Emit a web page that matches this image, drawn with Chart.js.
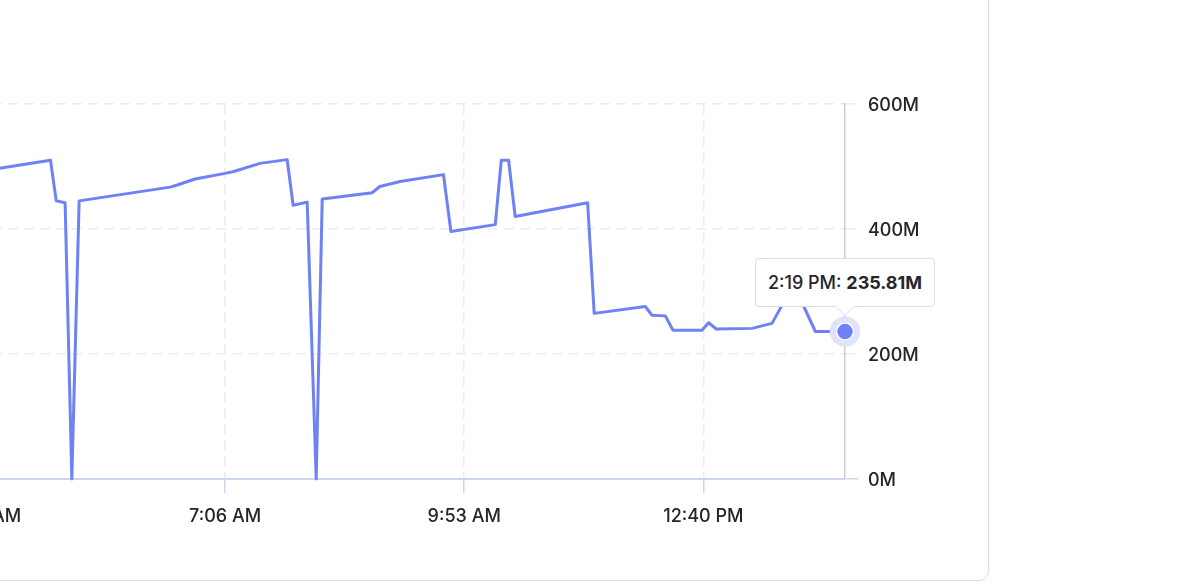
<!DOCTYPE html>
<html>
<head>
<meta charset="utf-8">
<script src="https://cdn.jsdelivr.net/npm/chart.js@4"></script>
<style>
  html, body { margin: 0; padding: 0; background: #fff; overflow: hidden; }
  body { width: 1198px; height: 588px; position: relative; font-family: Inter, sans-serif; }
  #card {
    position: absolute; left: -20px; top: -20px; width: 1009px; height: 601px;
    box-sizing: border-box; border: 1px solid #d5dcea; border-radius: 10px; background: #fff;
  }
  #wrap { position: absolute; left: -250px; top: 0; width: 1230px; height: 539px; }
  #tip {
    position: absolute; transform: translateX(-50%); white-space: nowrap;
    background: #fff; border: 1px solid #d7def0; border-radius: 4px;
    padding: 0 12px; height: 47px; line-height: 47px; font-size: 18px; color: #26262b;
    font-weight: 500; display: none;
  }
  #tip b { font-weight: 700; }
  #tip:before, #tip:after {
    content: ''; position: absolute; left: 50%; transform: translateX(-50%);
    border-left: 10px solid transparent; border-right: 10px solid transparent;
  }
  #tip:before { top: 100%; border-top: 10px solid #d7def0; }
  #tip:after { top: calc(100% - 1px); border-top: 10px solid #fff; }
</style>
</head>
<body>
<div id="card"></div>
<div id="wrap">
  <canvas id="chart" width="1230" height="539"></canvas>
  <div id="tip"></div>
</div>
<script>
// minutes since midnight
const times = [265, 304, 308, 314.2, 318.9, 324, 387.6, 392, 405, 426, 432, 450.3, 469.3, 473.5, 483.3,
  489.6, 493.8, 528.7, 534, 548.3, 578.5, 583.7, 614.7, 618.9, 624, 628.6, 679.2, 683.8, 719.5,
  724.2, 733.5, 738.8, 759.1, 763.7, 769.1, 794, 808, 820.8, 825, 838.3, 859];
// memory, millions
const values = [496, 510, 445, 442, 0, 445, 467, 470, 480, 489, 492, 505, 511, 438, 443,
  0, 448, 458, 468, 476, 487, 396, 407, 510, 510, 420, 442, 265, 276,
  262, 261, 238, 238, 250, 240, 241, 249, 302, 302, 236, 235.81];

const tickTimes = [259, 426, 593, 760];
const tickLabels = ['4:19 AM', '7:06 AM', '9:53 AM', '12:40 PM'];

const xMin = 129;
const xMax = 859;
const lineColor = '#6e82f6';
const font = { family: 'Inter', size: 18, weight: 500 };

function fmtTime(m) {
  let h = Math.floor(m / 60), mm = Math.round(m % 60);
  const ap = h >= 12 ? 'PM' : 'AM';
  h = h % 12 || 12;
  return h + ':' + String(mm).padStart(2, '0') + ' ' + ap;
}

function fmtVal(v) {
  return Number.isInteger(v) ? v + 'M' : v.toFixed(2) + 'M';
}

function externalTip(context) {
  const tip = document.getElementById('tip');
  const t = context.tooltip;
  if (t.opacity === 0) { tip.style.display = 'none'; return; }
  const p = t.dataPoints[0];
  tip.innerHTML = fmtTime(p.parsed.x) + ': <b>' + fmtVal(p.parsed.y) + '</b>';
  tip.style.display = 'block';
  tip.style.left = t.caretX + 'px';
  tip.style.top = (t.caretY - 25 - 49) + 'px';
}

// light ring around the hovered point
const halo = {
  id: 'halo',
  afterDatasetsDraw(chart) {
    const act = chart.getActiveElements();
    if (!act.length) return;
    const { x, y } = act[0].element;
    const ctx = chart.ctx;
    ctx.save();
    ctx.beginPath();
    ctx.arc(x, y, 12.2, 0, Math.PI * 2);
    ctx.lineWidth = 6;
    ctx.strokeStyle = '#dfe3fb';
    ctx.stroke();
    ctx.restore();
  }
};

const chart = new Chart(document.getElementById('chart'), {
  type: 'line',
  data: {
    datasets: [{
      data: times.map((t, i) => ({ x: t, y: values[i] })),
      borderColor: lineColor,
      borderWidth: 3,
      borderJoinStyle: 'round',
      tension: 0,
      fill: false,
      clip: false,
      pointRadius: 0,
      pointHoverRadius: 8.5,
      pointHoverBackgroundColor: lineColor,
      pointHoverBorderColor: '#ffffff',
      pointHoverBorderWidth: 1.5
    }]
  },
  options: {
    responsive: false,
    animation: false,
    layout: { padding: { left: 50, top: 104, right: 0, bottom: 0 } },
    plugins: {
      legend: { display: false },
      tooltip: { enabled: false, external: externalTip }
    },
    scales: {
      x: {
        type: 'linear',
        min: xMin,
        max: xMax,
        afterBuildTicks: s => { s.ticks = tickTimes.map(v => ({ value: v })); },
        afterFit: s => { s.height = 60; },
        ticks: {
          autoSkip: false,
          maxRotation: 0,
          padding: 13,
          color: '#24242a',
          font: font,
          callback: (v, i) => tickLabels[i]
        },
        grid: {
          color: '#ececf0',
          lineWidth: 1.5,
          tickLength: 14,
          tickColor: '#cdd6f0',
          tickWidth: 1.5,
          tickBorderDash: []
        },
        border: { display: true, color: '#cdd6f0', width: 2, dash: [10, 6] }
      },
      y: {
        position: 'right',
        min: 0,
        max: 600,
        afterFit: s => { s.width = 135; },
        ticks: {
          stepSize: 200,
          padding: 10,
          labelOffset: 2,
          color: '#24242a',
          font: font,
          callback: v => v + 'M'
        },
        grid: {
          color: c => c.tick && c.tick.value === 0 ? '#cdd6f0' : '#ececf0',
          lineWidth: 1.5,
          tickLength: 13,
          tickColor: c => c.tick && c.tick.value === 0 ? '#cdd6f0' : '#ececf0',
          tickBorderDash: c => c.tick && c.tick.value === 0 ? [] : [10, 6]
        },
        border: { display: true, color: '#cccccc', width: 1.5, dash: [10, 6] }
      }
    }
  },
  plugins: [halo]
});

const last = [{ datasetIndex: 0, index: values.length - 1 }];
const el = chart.getDatasetMeta(0).data[values.length - 1];
chart.setActiveElements(last);
chart.tooltip.setActiveElements(last, { x: el.x, y: el.y });
chart.update('none');
</script>
</body>
</html>
